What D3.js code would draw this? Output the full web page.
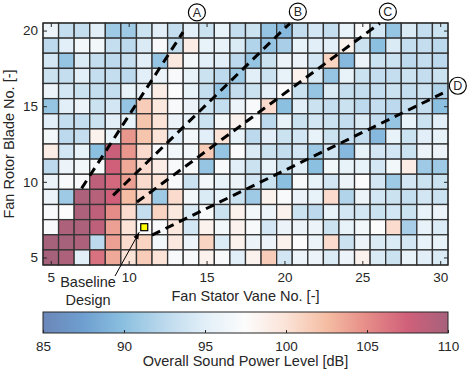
<!DOCTYPE html>
<html>
<head>
  <meta charset="utf-8" />
  <title>Fan Noise Map</title>
  <script src="https://d3js.org/d3.v7.min.js"></script>
</head>
<style>
body {
  margin: 0;
  background: #fff;
}
text {
  font-family: "Liberation Sans", Arial, sans-serif;
  fill: #262626;
}
</style>
<body>
<div id="viz"></div>
<script>
'use strict';

// stator vane numbers (columns) and rotor blade numbers (rows, top to bottom)
const vanes = [5, 6, 7, 8, 9, 10, 11, 12, 13, 14, 15, 16, 17, 18, 19, 20, 21, 22, 23, 24, 25, 26, 27, 28, 29, 30];
const blades = [20, 19, 18, 17, 16, 15, 14, 13, 12, 11, 10, 9, 8, 7, 6, 5];

// overall sound power level [dB], one array per blade count, vanes 5..30
const spl20 = [96, 93, 93, 95, 91, 91, 93.5, 95, 93, 95, 93.5, 95.5, 93, 93.5, 90.5, 89.5, 93, 94, 93, 95.5, 97, 94, 90.5, 94.5, 93, 93.5];
const spl19 = [92.5, 95, 96.5, 96.5, 93, 92.5, 94.5, 97, 93, 99, 95.5, 95.5, 94.5, 92, 90.5, 91.5, 95.5, 95, 95, 98.5, 93.5, 90, 94.5, 93, 93, 92.5];
const spl18 = [94, 90.5, 94.5, 93, 92.5, 93, 95, 90.5, 99.5, 96.5, 95, 95, 92.5, 90.5, 93.5, 96, 96, 94, 101, 89.5, 96, 93.5, 93.5, 92.5, 93, 92.5];
const spl17 = [93.5, 93, 95, 93, 93, 92.5, 95, 96, 97, 95.5, 93.5, 92.5, 91, 95, 93.5, 95.5, 98.5, 94.5, 90.5, 95.5, 93.5, 93, 93, 93.5, 93, 93.5];
const spl16 = [96, 94, 93.5, 93, 93, 95.5, 96, 99, 97.5, 95.5, 93, 90.5, 93, 93.5, 95, 97.5, 93.5, 90.5, 94.5, 93, 93, 93, 93.5, 93, 93.5, 92];
const spl15 = [90.5, 95, 96, 93.5, 94, 90.5, 101.5, 99.5, 97, 96, 93.5, 93, 96, 97, 100.5, 90, 95, 93.5, 93, 93.5, 92.5, 93, 92.5, 93, 93, 90];
const spl14 = [95, 93, 93, 93.5, 95, 95.5, 102, 100, 96, 95.5, 93.5, 96.5, 98.5, 97, 92.5, 95.5, 93.5, 94, 93.5, 93, 94.5, 93, 90.5, 95.5, 93.5, 95];
const spl13 = [96.5, 92.5, 93, 98.5, 95.5, 104.5, 102, 100, 95, 96.5, 95, 100, 95.5, 92.5, 95, 93.5, 94, 95.5, 93.5, 93, 93, 89.5, 95.5, 93.5, 95, 95.5];
const spl12 = [99, 94, 95.5, 90, 108, 104.5, 100.5, 97, 96.5, 96.5, 101.5, 90.5, 97.5, 94.5, 93.5, 93, 94, 91, 94, 89.5, 95.5, 94, 94, 93.5, 96, 96];
const spl11 = [92.5, 96, 96.5, 97, 107.5, 103.5, 100.5, 99, 97, 97, 90.5, 97, 95, 93.5, 95.5, 93.5, 95, 90, 96.5, 95.5, 95.5, 94, 96.5, 99, 91, 91];
const spl10 = [96, 97, 97, 108.5, 107, 104, 100.5, 100, 97, 93.5, 96.5, 95.5, 96, 94, 93.5, 90, 97, 95.5, 94, 96, 97.5, 94, 91, 94, 93.5, 93.5];
const spl9 = [96, 91, 109.5, 109, 107.5, 102.5, 100.5, 91, 100.5, 96.5, 94.5, 95.5, 93.5, 91, 98.5, 97, 96, 95.5, 100.5, 92, 96, 94, 93.5, 93, 94, 93.5];
const spl8 = [97, 97.5, 109.5, 108.5, 105, 100.5, 93, 101, 99.5, 94.5, 97, 93.5, 98.5, 96.5, 96, 98.5, 93.5, 92.5, 95.5, 94, 94, 93.5, 94, 93.5, 95.5, 96];
const spl7 = [97, 109.5, 109.5, 108.5, 104, 100, 97.5, 97, 99.5, 94, 98.5, 96.5, 98.5, 97, 94, 96, 96, 96, 93.5, 95.5, 96.5, 97.5, 100.5, 91.5, 95.5, 94.5];
const spl6 = [110, 110, 109.5, 92.5, 104, 100.5, 101, 96.5, 99.5, 96, 101, 94.5, 98.5, 96, 96, 98.5, 97.5, 96, 100.5, 93.5, 96, 94.5, 94.5, 94, 95.5, 95.5];
const spl5 = [110, 109.5, 95, 106.5, 103.5, 100, 101.5, 100, 97, 97, 98.5, 97, 95, 98.5, 101.5, 94, 96, 96, 94.5, 96, 98.5, 94.5, 93.5, 95.5, 95, 94.5];
const splRows = [spl20, spl19, spl18, spl17, spl16, spl15, spl14, spl13, spl12, spl11, spl10, spl9, spl8, spl7, spl6, spl5];

const xTicks = [5, 10, 15, 20, 25, 30];
const yTicks = [5, 10, 15, 20];
const cbTicks = [85, 90, 95, 100, 105, 110];

// colormap stops
const levelStops = [85, 87.5, 90, 92.5, 95, 97.5, 100, 102.5, 105, 107.5, 110];
const levelColors = ['#6b87b8', '#6e9fd0', '#8cc0e0', '#bcd9ed', '#e2eff8', '#fcfcfc',
                     '#fbe3d7', '#f5bda3', '#e68c88', '#d0607a', '#a6617b'];

// reference lines A-D (vane, blade endpoints)
const lineNames = ['A', 'B', 'C', 'D'];
const lineStart = [[6.98, 9.57], [9.0, 9.1], [10.53, 8.66], [11.5, 6.48]];
const lineEnd = [[13.49, 19.9], [20.35, 20.48], [26.12, 20.48], [30.17, 15.86]];
const labelPos = [[14.38, 21.2], [20.86, 21.25], [26.64, 21.25], [31.13, 16.35]];

const baseline = [11, 7];

const W = 474, H = 373;
const FONT = '"Liberation Sans", Arial, sans-serif';
const svg = d3.select('#viz').append('svg')
  .attr('width', W).attr('height', H);

const x = d3.scaleLinear().domain([4.5, 30.5]).range([43, 448]);
const y = d3.scaleLinear().domain([4.5, 20.5]).range([265, 23]);
const color = d3.scaleLinear().domain(levelStops).range(levelColors).clamp(true);

const cells = [];
blades.forEach((b, i) => {
  splRows[i].forEach((v, j) => cells.push({vane: vanes[j], blade: b, spl: v}));
});

svg.append('g').selectAll('rect').data(cells).join('rect')
  .attr('x', d => x(d.vane - 0.5))
  .attr('y', d => y(d.blade + 0.5))
  .attr('width', d => x(d.vane + 0.5) - x(d.vane - 0.5))
  .attr('height', d => y(d.blade - 0.5) - y(d.blade + 0.5))
  .attr('fill', d => color(d.spl))
  .attr('stroke', '#333')
  .attr('stroke-width', 1.3);

function styleAxis(g) {
  g.select('.domain').remove();
  g.selectAll('.tick line').attr('stroke', '#262626');
  g.selectAll('.tick text').attr('font-size', 13.5).attr('font-family', FONT).attr('fill', '#262626');
}

svg.append('g').attr('transform', 'translate(0,265)')
  .call(d3.axisBottom(x).tickValues(xTicks).tickSize(-4).tickPadding(7))
  .call(styleAxis);
svg.append('g').attr('transform', 'translate(0,23)')
  .call(d3.axisTop(x).tickValues(xTicks).tickSize(-4).tickFormat(''))
  .call(styleAxis);
svg.append('g').attr('transform', 'translate(43,0)')
  .call(d3.axisLeft(y).tickValues(yTicks).tickSize(-4).tickPadding(5))
  .call(styleAxis);
svg.append('g').attr('transform', 'translate(448,0)')
  .call(d3.axisRight(y).tickValues(yTicks).tickSize(-4).tickFormat(''))
  .call(styleAxis);

svg.append('rect')
  .attr('x', 43).attr('y', 23).attr('width', 405).attr('height', 242)
  .attr('fill', 'none').attr('stroke', '#262626').attr('stroke-width', 1);

// dashed reference lines
lineNames.forEach((n, i) => {
  svg.append('line')
    .attr('x1', x(lineStart[i][0])).attr('y1', y(lineStart[i][1]))
    .attr('x2', x(lineEnd[i][0])).attr('y2', y(lineEnd[i][1]))
    .attr('stroke', '#000').attr('stroke-width', 3)
    .attr('stroke-dasharray', '9,6');
  const g = svg.append('g')
    .attr('transform', `translate(${x(labelPos[i][0])},${y(labelPos[i][1])})`);
  g.append('circle').attr('r', 8.5).attr('fill', '#fff')
    .attr('stroke', '#000').attr('stroke-width', 1.2);
  g.append('text').attr('text-anchor', 'middle').attr('dy', '0.36em')
    .attr('font-size', 12.5).text(n);
});

// baseline design marker + arrow
svg.append('defs').append('marker')
  .attr('id', 'arrow').attr('viewBox', '0 0 10 10')
  .attr('refX', 10).attr('refY', 5)
  .attr('markerWidth', 7).attr('markerHeight', 7)
  .attr('orient', 'auto')
  .append('path').attr('d', 'M0,1L10,5L0,9Z').attr('fill', '#000');

svg.append('line')
  .attr('x1', 115).attr('y1', 276)
  .attr('x2', x(baseline[0]) - 5).attr('y2', y(baseline[1]) + 5)
  .attr('stroke', '#000').attr('stroke-width', 1)
  .attr('marker-end', 'url(#arrow)');

svg.append('rect')
  .attr('x', x(baseline[0]) - 3.5).attr('y', y(baseline[1]) - 3.5)
  .attr('width', 7).attr('height', 7)
  .attr('fill', '#ffff00').attr('stroke', '#000').attr('stroke-width', 1.2);

svg.append('text').attr('x', 88).attr('y', 287).attr('text-anchor', 'middle')
  .attr('font-size', 14.5).text('Baseline');
svg.append('text').attr('x', 88).attr('y', 305).attr('text-anchor', 'middle')
  .attr('font-size', 14.5).text('Design');

// axis titles
svg.append('text').attr('x', 245.5).attr('y', 301).attr('text-anchor', 'middle')
  .attr('font-size', 14.5).text('Fan Stator Vane No. [-]');
svg.append('text')
  .attr('transform', 'translate(14,144) rotate(-90)')
  .attr('text-anchor', 'middle').attr('font-size', 14.5)
  .text('Fan Rotor Blade No. [-]');

// colorbar
const cb = d3.scaleLinear().domain([85, 110]).range([43, 448]);
const grad = svg.select('defs').append('linearGradient')
  .attr('id', 'cbgrad').attr('x1', '0%').attr('x2', '100%');
grad.selectAll('stop').data(levelStops).join('stop')
  .attr('offset', d => ((d - 85) / 25 * 100) + '%')
  .attr('stop-color', d => color(d));

svg.append('rect')
  .attr('x', cb(85)).attr('y', 312)
  .attr('width', cb(110) - cb(85)).attr('height', 21)
  .attr('fill', 'url(#cbgrad)')
  .attr('stroke', '#262626').attr('stroke-width', 1);

svg.append('g').attr('transform', 'translate(0,333)')
  .call(d3.axisBottom(cb).tickValues(cbTicks).tickSize(-3).tickPadding(8))
  .call(styleAxis);

svg.append('text').attr('x', 245.5).attr('y', 366).attr('text-anchor', 'middle')
  .attr('font-size', 14.5).text('Overall Sound Power Level [dB]');
</script>
</body>
</html>
